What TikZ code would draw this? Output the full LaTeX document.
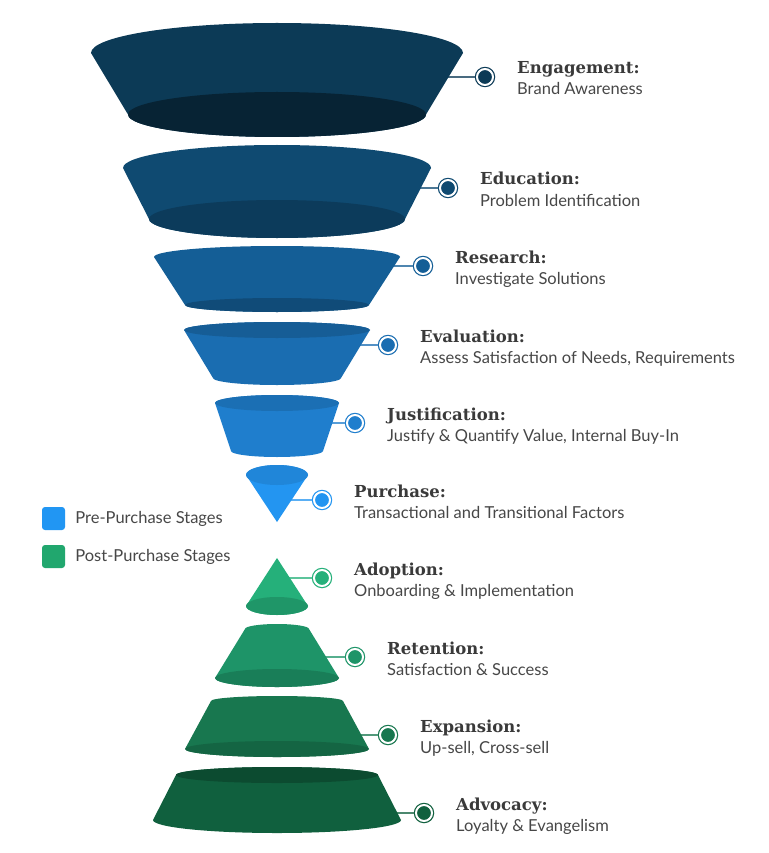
\documentclass[tikz,border=0pt]{standalone}
\usepackage{fontspec}
\usepackage{tikz}
\usetikzlibrary{positioning}
\newfontfamily\ttlfont{DejaVu Serif}
\newfontfamily\subfont{Lato}

\definecolor{engage}{HTML}{0C3A56}
\definecolor{educate}{HTML}{0F4A71}
\definecolor{research}{HTML}{145E96}
\definecolor{evaluate}{HTML}{1A6DB1}
\definecolor{justify}{HTML}{1F7ECD}
\definecolor{purchase}{HTML}{2395F1}
\definecolor{adopt}{HTML}{25B07A}
\definecolor{retain}{HTML}{1E9468}
\definecolor{expand}{HTML}{18774F}
\definecolor{advocate}{HTML}{10603E}
\definecolor{legblue}{HTML}{2196F3}
\definecolor{leggreen}{HTML}{21A76E}
\definecolor{ttlgray}{HTML}{3A3A3A}
\definecolor{subgray}{HTML}{474747}

% body of one funnel stage: cx, top y, top rx, top ry, bottom y, bottom rx, bottom ry, colour
\newcommand{\stagebody}[8]{%
  \fill[#8] (#1-#3,#2) arc[start angle=180, end angle=0, x radius=#3pt, y radius=#4pt]
    -- (#1+#6,#5) arc[start angle=0, end angle=-180, x radius=#6pt, y radius=#7pt] -- cycle;}

\begin{document}
\begin{tikzpicture}[x=1pt, y=-1pt,
    ttl/.style={font=\ttlfont\bfseries\fontsize{16.5}{20}\selectfont, text=ttlgray, inner sep=0pt, anchor=base west},
    sub/.style={font=\subfont\fontsize{16.5}{19}\selectfont, text=subgray, inner sep=0pt, anchor=base west},
    dot/.style={circle, inner sep=0pt, minimum size=16pt, outer sep=2.2pt, fill=#1, draw=#1,
      double=white, double distance=2pt, line width=1.2pt},
    link/.style={draw=#1!75!white, line width=2pt},
    legbox/.style={rounded corners=3pt, fill=#1, minimum size=23pt, inner sep=0pt}]
    \useasboundingbox (0,0) rectangle (768,853);
    \fill[white] (0,0) rectangle (768,853);

    % Engagement
        \coordinate (e1) at (277,77);
        \node[dot=engage] (c1) at (485,77) {};
        \draw[link=engage] (e1) -- (c1);
        \stagebody{277}{53}{186}{30}{114.5}{149}{22.5}{engage}
        \fill[engage!60!black] (277,114.5) ellipse[x radius=149pt, y radius=22.5pt];
        \node[ttl] (t1) at ([xshift=32pt,yshift=3pt]c1.center) {Engagement:};
        \node[sub] (s1) at ([yshift=-21pt]t1.base west) {Brand Awareness};
    % Education
        \coordinate (e2) at (277,188);
        \node[dot=educate] (c2) at (448,188) {};
        \draw[link=educate] (e2) -- (c2);
        \stagebody{277}{168}{154}{23}{219}{128}{19}{educate}
        \fill[educate!80!black] (277,219) ellipse[x radius=128pt, y radius=19pt];
        \node[ttl] (t2) at ([xshift=32pt,yshift=3pt]c2.center) {Education:};
        \node[sub] (s2) at ([yshift=-21pt]t2.base west) {Problem Identification};
    % Research
        \coordinate (e3) at (277,266);
        \node[dot=research] (c3) at (423,266) {};
        \draw[link=research] (e3) -- (c3);
        \stagebody{277}{257}{123}{11}{305}{92}{7}{research}
        \fill[research!80!black] (277,305) ellipse[x radius=92pt, y radius=7pt];
        \node[ttl] (t3) at ([xshift=32pt,yshift=3pt]c3.center) {Research:};
        \node[sub] (s3) at ([yshift=-21pt]t3.base west) {Investigate Solutions};
    % Evaluation
        \coordinate (e4) at (277,345);
        \node[dot=evaluate] (c4) at (388,345) {};
        \draw[link=evaluate] (e4) -- (c4);
        \stagebody{277}{330}{93}{8}{378}{64}{7}{evaluate}
        \fill[evaluate!85!black] (277,330) ellipse[x radius=93pt, y radius=8pt];
        \node[ttl] (t4) at ([xshift=32pt,yshift=3pt]c4.center) {Evaluation:};
        \node[sub] (s4) at ([yshift=-21pt]t4.base west) {Assess Satisfaction of Needs, Requirements};
    % Justification
        \coordinate (e5) at (277,423);
        \node[dot=justify] (c5) at (355,423) {};
        \draw[link=justify] (e5) -- (c5);
        \stagebody{277}{403}{62}{8}{451}{46}{6}{justify}
        \fill[justify!88!black] (277,403) ellipse[x radius=62pt, y radius=8pt];
        \node[ttl] (t5) at ([xshift=32pt,yshift=3pt]c5.center) {Justification:};
        \node[sub] (s5) at ([yshift=-21pt]t5.base west) {Justify \& Quantify Value, Internal Buy-In};
    % Purchase
        \coordinate (e6) at (277,500);
        \node[dot=purchase] (c6) at (322,500) {};
        \draw[link=purchase] (e6) -- (c6);
        \stagebody{277}{475}{31}{10}{522}{0.01}{0.01}{purchase}
        \fill[purchase!90!black] (277,475) ellipse[x radius=31pt, y radius=10pt];
        \node[ttl] (t6) at ([xshift=32pt,yshift=3pt]c6.center) {Purchase:};
        \node[sub] (s6) at ([yshift=-21pt]t6.base west) {Transactional and Transitional Factors};
    % Adoption
        \coordinate (e7) at (277,578);
        \node[dot=adopt] (c7) at (322,578) {};
        \draw[link=adopt] (e7) -- (c7);
        \stagebody{277}{558}{0.01}{0.01}{606}{31}{9}{adopt}
        \fill[adopt!85!black] (277,606) ellipse[x radius=31pt, y radius=9pt];
        \node[ttl] (t7) at ([xshift=32pt,yshift=3pt]c7.center) {Adoption:};
        \node[sub] (s7) at ([yshift=-21pt]t7.base west) {Onboarding \& Implementation};
    % Retention
        \coordinate (e8) at (277,657);
        \node[dot=retain] (c8) at (355,657) {};
        \draw[link=retain] (e8) -- (c8);
        \stagebody{277}{629}{32}{5}{678}{62}{9}{retain}
        \fill[retain!85!black] (277,678) ellipse[x radius=62pt, y radius=9pt];
        \node[ttl] (t8) at ([xshift=32pt,yshift=3pt]c8.center) {Retention:};
        \node[sub] (s8) at ([yshift=-21pt]t8.base west) {Satisfaction \& Success};
    % Expansion
        \coordinate (e9) at (277,735);
        \node[dot=expand] (c9) at (388,735) {};
        \draw[link=expand] (e9) -- (c9);
        \stagebody{277}{701}{66}{5}{749}{92}{8}{expand}
        \fill[expand!85!black] (277,749) ellipse[x radius=92pt, y radius=8pt];
        \node[ttl] (t9) at ([xshift=32pt,yshift=3pt]c9.center) {Expansion:};
        \node[sub] (s9) at ([yshift=-21pt]t9.base west) {Up-sell, Cross-sell};
    % Advocacy
        \coordinate (e10) at (277,813);
        \node[dot=advocate] (c10) at (424,813) {};
        \draw[link=advocate] (e10) -- (c10);
        \stagebody{277}{775}{101}{8}{820}{124}{13}{advocate}
        \fill[advocate!78!black] (277,775) ellipse[x radius=101pt, y radius=8pt];
        \node[ttl] (t10) at ([xshift=32pt,yshift=3pt]c10.center) {Advocacy:};
        \node[sub] (s10) at ([yshift=-21pt]t10.base west) {Loyalty \& Evangelism};
    % Legend
        \node[legbox=legblue] (lpre) at (53.5,518.5) {};
        \node[sub, anchor=west, right=10pt of lpre] (tpre) {Pre-Purchase Stages};
        \node[legbox=leggreen] (lpost) at (53.5,556.5) {};
        \node[sub, anchor=west, right=10pt of lpost] (tpost) {Post-Purchase Stages};
\end{tikzpicture}
\end{document}
